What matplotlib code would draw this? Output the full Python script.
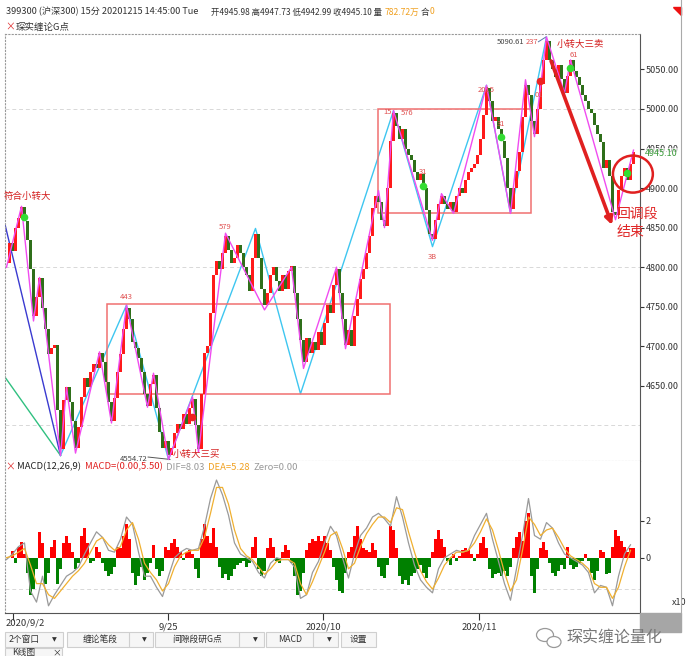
import numpy as np
import matplotlib
matplotlib.use('Agg')
import matplotlib.pyplot as plt
from matplotlib.patches import Rectangle, Ellipse, Polygon
from matplotlib.transforms import blended_transform_factory

plt.rcParams['font.family'] = ['Noto Sans CJK SC', 'DejaVu Sans']

W, H = 687, 656

# 15-minute closes (one value every ~3 px of the reference)
closes = [
    4805, 4830, 4820, 4850, 4862, 4876, 4858, 4835, 4798, 4738,
    4762, 4786, 4748, 4722, 4690, 4698, 4702, 4620, 4570, 4632,
    4648, 4630, 4605, 4572, 4598, 4636, 4660, 4648, 4668, 4678,
    4672, 4692, 4680, 4655, 4630, 4606, 4635, 4668, 4690, 4722,
    4748, 4735, 4705, 4698, 4685, 4668, 4640, 4625, 4652, 4664,
    4622, 4592, 4572, 4580, 4562, 4572, 4590, 4602, 4595, 4615,
    4602, 4622, 4634, 4600, 4570, 4640, 4692, 4700, 4742, 4790,
    4808, 4798, 4818, 4840, 4822, 4805, 4812, 4828, 4818, 4800,
    4790, 4770, 4812, 4842, 4812, 4772, 4752, 4768, 4790, 4800,
    4782, 4770, 4790, 4772, 4795, 4802, 4768, 4735, 4708, 4680,
    4710, 4692, 4705, 4695, 4718, 4702, 4730, 4752, 4742, 4778,
    4798, 4768, 4735, 4702, 4720, 4700, 4738, 4760, 4785, 4798,
    4818, 4840, 4875, 4890, 4882, 4860, 4852, 4900, 4960, 4995,
    4978, 4962, 4975, 4950, 4942, 4935, 4920, 4910, 4918, 4900,
    4872, 4842, 4836, 4860, 4880, 4890, 4880, 4874, 4882, 4870,
    4890, 4900, 4894, 4910, 4920, 4926, 4930, 4942, 4962, 4992,
    5026, 5010, 4985, 4990, 4975, 4960, 4938, 4900, 4874, 4900,
    4922, 4945, 4990, 5030, 5018, 4985, 4968, 5000, 5032, 5062,
    5086, 5062, 5050, 5040, 5055, 5038, 5020, 5042, 5062, 5048,
    5040, 5030, 5018, 5010, 5000, 4995, 4980, 4968, 4958, 4925,
    4935, 4915, 4870, 4866, 4898, 4915, 4925, 4910, 4930, 4945,
]

# MACD histogram, same bars
macd_hist = [
    0, 0, 3.5, -3, 6, 8.5, 2, -8, -20, -17,
    -6, 14, 8, -14, -8, 6, 9.5, -14, -6, 8,
    12, 8, 3, -6, -3, 12, 16, 8, -3, -2,
    6, 3, -3, -7, -10, -9, -5, 6, 5, 12,
    18, 10, -8, -15, -10, -5, -12, -8, -3, 7,
    -6, -10, -7, 6, 4, 8, 10, 6, 3, -1,
    3, 4, 2, -6, -11, 10, 18, 12, 8, 16,
    6, -5, -11, -9, -12, -10, -6, -4, -3, -2,
    -5, -3, 6, 11, -6, -10, -7, 5, 10.5, 6,
    -2, -3, 3, 7, 4, -3, -10, -20, -18, -8,
    4, 8, 10, 9, 12, 9, 12, 8, 4, -5,
    -12, -18, -19, -8, 3, 6, 12, 17, 10, 5,
    4, 3, 8, 4, -5, -10, -11, -4, 17, 15,
    5, -10, -14, -12, -15, -10, -8, -6, -4, -8,
    -11, -5, 3, 10, 15, 10, 6, -2, -4, 2,
    -2, 1, 4, 5.5, 4, 2, -2, 2, 8, 11,
    5, -6, -11, -9, -8, -10, -7, -10, -5, 5,
    11, 14, 9, 20, 24, -10, -19, -6, 5, 8.5,
    4, -3, -8, -10, -7, -4, -6, 6, -4, -6,
    -5, -3, -2, 2, -2, -8, -12, -7, 4, 3,
    -9, -8, 6, 15, 12, 9, 6, 3, 5, 5.5,
]

# DIF / DEA, every second bar
dif = [
    -1, 2, 6, 8, -18, -24, -10, -26, -20, -15,
    -10, -8, -5, 2, 8, 14, 11, 4, 3, 10,
    22, 18, 3, -10, -10, -16, -21, -10, 0, 3,
    5, 4, 5, 17, 32, 42, 34, 23, 8, 2,
    0, -2, -8, -11, -3, 0, -1, -1, -5, -22,
    -20, -8, -2, 8, 17, 12, 0, -11, 2, 12,
    16, 22, 24, 21, 17, 33, 22, 8, -4, -12,
    -16, -19, -6, 0, 2, 4, 3, 4, 12, 18,
    24, 10, -2, -14, -23, -6, 12, 32, 12, 10,
    19, 16, 8, 2, 0, -2, -4, -8, -19, -15,
    -16, -26, -10, 2, 7,
]
dea = [
    0, 1, 3, 5, -4, -14, -14, -20, -22, -18,
    -14, -10, -7, -3, 3, 9, 11, 7, 4, 6,
    15, 19, 10, -3, -8, -12, -18, -14, -5, 1,
    3, 4, 4, 11, 24, 38, 38, 29, 15, 5,
    1, -1, -5, -9, -6, -2, -1, -1, -3, -14,
    -20, -13, -5, 3, 12, 14, 5, -6, -3, 6,
    13, 18, 22, 22, 19, 27, 26, 14, 3, -7,
    -13, -17, -11, -4, 0, 3, 3, 4, 8, 14,
    21, 15, 4, -8, -18, -12, 4, 22, 18, 12,
    15, 16, 11, 5, 1, -1, -3, -6, -14, -16,
    -16, -22, -16, -5, 4,
]

# chan-theory strokes (bar index, price)
bi_idx = [0, 5, 9, 11, 18, 20, 23, 31, 35, 40, 47, 49, 54, 62, 64, 73, 86, 95, 99,
          110, 113, 124, 126, 129, 142, 145, 149, 160, 168, 173, 176, 180, 186, 188, 203, 209]
bi_price = [4800, 4877, 4732, 4787, 4562, 4648, 4565, 4693, 4603, 4752, 4623, 4666, 4557,
            4636, 4566, 4843, 4746, 4800, 4672, 4800, 4697, 4897, 4850, 4998, 4834, 4893,
            4868, 5030, 4868, 5037, 4965, 5091, 5020, 5062, 4860, 4948]
seg_idx = [18, 40, 54, 83, 98, 129, 142, 160, 168, 180]
seg_price = [4562, 4752, 4557, 4849, 4640, 4998, 4826, 5030, 4868, 5091]
blue_idx, blue_price = [-0.5, 18], [4854, 4562]
green_idx, green_price = [-0.5, 18], [4661, 4562]

# pivot boxes: (start idx, end idx, low, high)
boxes = [(33.5, 127.8, 4640, 4753), (123.8, 174.8, 4868, 5000)]

green_dot_idx = [6, 139, 165, 188, 207]
green_dot_price = [4863, 4903, 4965, 5052, 4919]
red_dot_idx = [62, 178]
red_dot_price = [4611, 5035]

xtick_idx = [2.17, 53.8, 105.5, 157.5]
xtick_lab = ['2020/9/2', '9/25', '2020/10', '2020/11']
price_ticks = [4650, 4700, 4750, 4800, 4850, 4900, 4950, 5000, 5050]


def fx(x):
    return x / W


def fy(y):
    return 1 - y / H


fig = plt.figure(figsize=(W / 100, H / 100), dpi=100)
ax = fig.add_axes([fx(5), fy(461), 635 / W, (461 - 34) / H])
am = fig.add_axes([fx(5), fy(613), 635 / W, (613 - 461) / H], sharex=ax)

n = len(closes)
idx = np.arange(n)
c = np.array(closes, dtype=float)
o = np.r_[c[0], c[:-1]]
up = c >= o
ax.bar(idx[up], (c - o)[up], bottom=o[up], width=0.75, color='#ff1a1a', linewidth=0, zorder=3)
ax.bar(idx[~up], (c - o)[~up], bottom=o[~up], width=0.75, color='#2f6f1a', linewidth=0, zorder=3)

ax.plot(blue_idx, blue_price, color='#3a3ad0', lw=1.0, zorder=2)
ax.plot(green_idx, green_price, color='#30c080', lw=1.0, zorder=2)
ax.plot(seg_idx, seg_price, color='#3ec6f0', lw=1.0, zorder=2)
ax.plot(bi_idx, bi_price, color='#f04cf0', lw=1.0, zorder=4)

for x0, x1, lo, hi in boxes:
    ax.add_patch(Rectangle((x0, lo), x1 - x0, hi - lo, fill=False, ec='#f07070', lw=1.1, zorder=2))

ax.scatter(green_dot_idx, green_dot_price, s=30, color='#33dd33', zorder=6, linewidths=0)
ax.scatter(red_dot_idx, red_dot_price, s=30, color='#ee2222', zorder=6, linewidths=0)

# annotations
lab = dict(color='#e05050', fontsize=5.5, ha='center', va='center', zorder=7)
ax.text(40, 4762, '443', **lab)
ax.text(73, 4851, '579', **lab)
ax.text(127, 4996, '15', **lab)
ax.text(133.5, 4995, '576', **lab)
ax.text(139, 4920, '31', **lab)
ax.text(142, 4813, '3B', **lab)
ax.text(160, 5024, '2015', **lab)
ax.text(165, 4981, '31', **lab)
ax.text(177.5, 5018, '01', **lab)
ax.text(175.3, 5085, '237', **lab)
ax.text(189, 5068, '61', **lab)
ax.text(172.5, 5085, '5090.61', color='#444444', fontsize=5.5, ha='right', va='center')
ax.plot([177.3, 179.8], [5085, 5091], color='#5577aa', lw=0.7)
ax.text(47, 4558, '4554.72', color='#444444', fontsize=5.5, ha='right', va='center')
ax.plot([47.2, 54.5], [4560, 4557], color='#555555', lw=0.7)

big = dict(color='#d42020', fontsize=6.8, va='center', zorder=7)
ax.text(-0.8, 4889, '符合小转大', ha='left', **big)
ax.text(55.5, 4563, '小转大三买', ha='left', **big)
ax.text(183.5, 5081, '小转大三卖', ha='left', **big)

ax.annotate('', xy=(202.2, 4850), xytext=(181.2, 5064),
            arrowprops=dict(arrowstyle='-|>', color='#e02020', lw=2.6, mutation_scale=11),
            zorder=8)
ax.add_patch(Ellipse((208.8, 4917.7), 13.3, 46.8, fill=False, ec='#e02020', lw=1.8, zorder=8,
                     clip_on=False))
ax.text(203.5, 4868, '回调段', color='#e02828', fontsize=10, ha='left', va='center', zorder=9)
ax.text(203.5, 4844, '结束', color='#e02828', fontsize=10, ha='left', va='center', zorder=9)

ax.set_xlim(-0.5, 211.17)
ax.set_ylim(4555, 5094.8)
for p in [4600, 4800, 5000]:
    ax.axhline(p, color='#d8d8d8', lw=0.7, ls=(0, (4, 3)), zorder=0)

ax.yaxis.tick_right()
ax.set_yticks(price_ticks)
ax.set_yticklabels(['%.2f' % p for p in price_ticks])
ax.tick_params(axis='y', direction='out', length=3, width=0.8, colors='#333333',
               labelsize=6.5, pad=1)
ax.tick_params(axis='x', bottom=False, labelbottom=False)
ax.text(1.008, (4944.3 - 4555) / (5094.8 - 4555), '4945.10', transform=ax.transAxes,
        color='#3a9a3a', fontsize=6.5, ha='left', va='center',
        bbox=dict(fc='white', ec='none', pad=0.2, alpha=0.6))

for s in ['left', 'top', 'bottom']:
    ax.spines[s].set_linestyle((0, (1, 2)))
    ax.spines[s].set_color('#999999')
    ax.spines[s].set_linewidth(0.8)
ax.spines['right'].set_color('#555555')

# MACD panel
h = np.array(macd_hist)
am.bar(idx, h, width=1.0, color=np.where(h >= 0, '#ff0000', '#008000'), linewidth=0)
j = np.arange(len(dif)) * 2
am.plot(j, dif, color='#9a9a9a', lw=0.9)
am.plot(j, dea, color='#f0b030', lw=0.9)
am.axhline(-17, color='#d8d8d8', lw=0.7, ls=(0, (4, 3)), zorder=0)
am.set_ylim(-29.9, 52.3)
am.yaxis.tick_right()
am.set_yticks([20, 0])
am.set_yticklabels(['2', '0'])
am.tick_params(axis='y', direction='out', length=3, width=0.8, colors='#333333',
               labelsize=6.5, pad=1)
am.set_xticks(xtick_idx)
am.set_xticklabels([''] + xtick_lab[1:])
am.tick_params(axis='x', direction='out', length=5, width=0.8, colors='#333333',
               labelsize=6.8, pad=2)
bt = blended_transform_factory(am.transData, am.transAxes)
am.text(-0.17, -0.068, xtick_lab[0], transform=bt, fontsize=6.8, color='#333333',
        ha='left', va='center')
am.spines['top'].set_visible(False)
am.spines['left'].set_linestyle((0, (1, 2)))
am.spines['left'].set_color('#999999')
am.spines['right'].set_color('#555555')
am.spines['bottom'].set_color('#555555')
am.text(1.05, 0.07, 'x10', transform=am.transAxes, fontsize=6.5, color='#333333',
        ha='left', va='center')

# header lines
fig.text(fx(6), fy(12), '399300 (沪深300) 15分 20201215 14:45:00 Tue', fontsize=6.6,
         color='#333333', va='center')
fig.text(fx(211), fy(12), '开4945.98 高4947.73 低4942.99 收4945.10 量', fontsize=6.0,
         color='#333333', va='center')
fig.text(fx(385), fy(12), '782.72万', fontsize=6.2, color='#f0a020', va='center')
fig.text(fx(421), fy(12), '合', fontsize=6.2, color='#333333', va='center')
fig.text(fx(430), fy(12), '0', fontsize=6.2, color='#f0a020', va='center')
fig.text(fx(5), fy(27), '×', fontsize=7, color='#e03030', va='center')
fig.text(fx(16), fy(27), '琛实缠论G点', fontsize=6.8, color='#333333', va='center')

fig.text(fx(5), fy(467), '×', fontsize=7, color='#e03030', va='center')
fig.text(fx(17), fy(467), 'MACD(12,26,9)', fontsize=6.8, color='#222222', va='center')
fig.text(fx(85.5), fy(467), 'MACD=(0.00,5.50)', fontsize=6.8, color='#e02020', va='center')
fig.text(fx(166), fy(467), 'DIF=8.03', fontsize=6.8, color='#999999', va='center')
fig.text(fx(208), fy(467), 'DEA=5.28', fontsize=6.8, color='#f0a020', va='center')
fig.text(fx(253.5), fy(467), 'Zero=0.00', fontsize=6.8, color='#999999', va='center')

# frame pieces on the right
fig.add_artist(plt.Line2D([fx(681), fx(681)], [fy(0), fy(613)], color='#aaaaaa', lw=0.8))
fig.add_artist(Polygon([(fx(673), fy(7)), (fx(681), fy(7)), (fx(681), fy(15))],
                       closed=True, color='#ee1111', transform=fig.transFigure))
fig.add_artist(Rectangle((fx(640), fy(632)), 41 / W, 19 / H, color='#a6a6a6',
                         transform=fig.transFigure))

# bottom toolbar: (left, right, text, text x, divider x)
buttons = [(5, 63, '2个窗口', 9, None), (66.5, 153, '缠论笔段', 83, 128.5),
           (155, 264, '间隙段研G点', 172, 239), (266, 338, 'MACD', 278, 312.5),
           (341, 376, '设置', 350, None)]
for x0, x1, txt, tx, div in buttons:
    fig.add_artist(Rectangle((fx(x0), fy(647)), (x1 - x0) / W, 15 / H, fc='#f6f6f6',
                             ec='#cfcfcf', lw=0.8, transform=fig.transFigure))
    fig.text(fx(tx), fy(639.5), txt, fontsize=6.3, color='#333333', va='center')
    if div is not None:
        fig.add_artist(plt.Line2D([fx(div), fx(div)], [fy(633), fy(646)], color='#cfcfcf',
                                  lw=0.8))
    if txt != '设置':
        fig.text(fx(x1 - 9), fy(639.5), '▼', fontsize=4.5, color='#333333', va='center',
                 ha='center', family=['DejaVu Sans'])
fig.add_artist(Rectangle((fx(5), fy(657)), 57 / W, 9 / H, fc='#f6f6f6', ec='#cfcfcf',
                         lw=0.8, transform=fig.transFigure))
fig.text(fx(12), fy(653), 'K线图', fontsize=6.3, color='#333333', va='center')
fig.text(fx(52), fy(653), '×', fontsize=6.3, color='#333333', va='center')

# watermark
fig.add_artist(Ellipse((fx(545), fy(635)), 17 / W, 13 / H, fill=False, ec='#999999', lw=0.9,
                       transform=fig.transFigure))
fig.add_artist(Ellipse((fx(554), fy(642)), 14 / W, 11 / H, fc='white', ec='#999999', lw=0.9,
                       transform=fig.transFigure))
fig.text(fx(566), fy(638), '琛实缠论量化', fontsize=11.5, color='#777777', va='center')

fig.savefig('out.png', dpi=100)
